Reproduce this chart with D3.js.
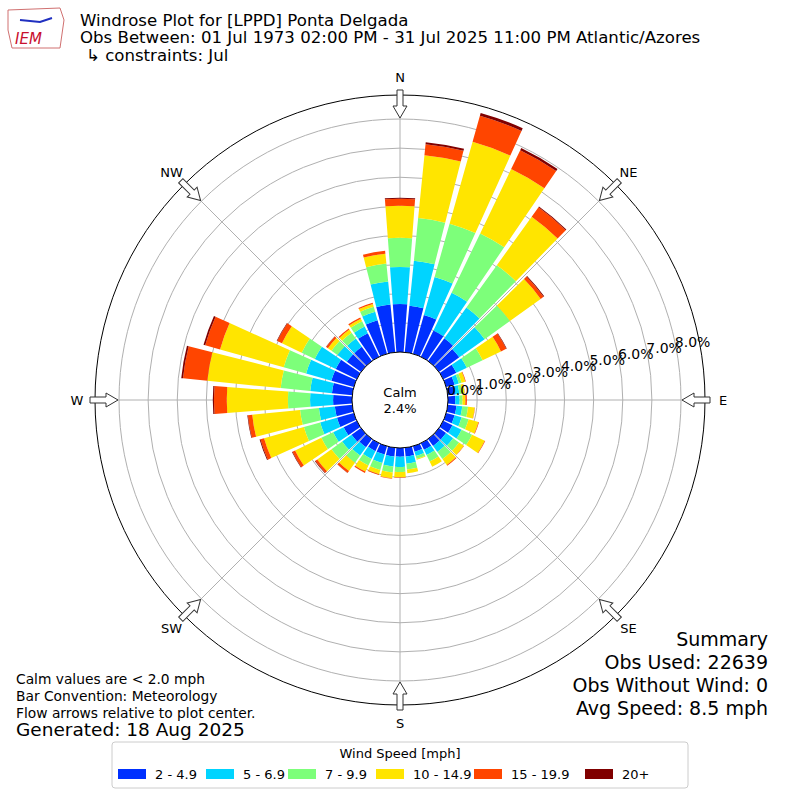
<!DOCTYPE html>
<html><head><meta charset="utf-8">
<script src="https://cdn.jsdelivr.net/npm/d3@7"></script>
<style>body{margin:0;background:#fff}text{font-family:"DejaVu Sans",sans-serif}</style>
</head><body>
<script>
const directions = d3.range(0, 360, 10);
const speedBins = ["2 - 4.9","5 - 6.9","7 - 9.9","10 - 14.9","15 - 19.9","20+"];
const binColors = ["#0030ff","#00d4ff","#7dff7a","#ffe500","#ff4500","#800000"];
// cumulative percent up to the top of each speed bin, per direction (0..350 by 10)
const cumTo4_9  = [1.65,1.6,1.38,1.0,0.96,0.86,0.5,0.3,0.25,0.25,0.3,0.3,0.35,0.3,0.3,0.25,0.2,0.3,0.3,0.3,0.3,0.3,0.35,0.4,0.5,0.6,0.6,0.65,0.7,0.8,0.8,0.6,0.6,0.9,1.2,1.65];
const cumTo6_9  = [2.92,3.16,2.74,2.44,2.26,1.93,0.9,0.45,0.4,0.4,0.5,0.55,0.7,0.6,0.55,0.45,0.35,0.55,0.65,0.65,0.6,0.6,0.7,0.8,0.9,1.2,1.15,1.44,1.45,1.7,1.6,1.0,0.95,1.15,1.5,2.44];
const cumTo9_9  = [3.92,4.63,4.64,4.7,4.05,3.0,1.5,0.55,0.5,0.5,0.7,0.8,1.1,0.85,0.85,0.7,0.45,0.75,0.82,0.85,0.85,0.85,1.0,1.25,1.35,1.78,1.8,2.2,2.47,2.5,2.1,1.25,1.2,1.35,1.68,3.06];
const cumTo14_9 = [5.02,6.8,7.56,7.15,6.1,4.3,2.2,0.68,0.58,0.6,0.93,1.15,1.58,1.05,1.1,0.9,0.48,0.88,1.0,1.05,1.0,1.08,1.35,1.85,2.35,3.2,3.45,4.3,5.0,4.77,2.85,1.4,1.33,1.45,1.78,3.4];
const cumTo19_9 = [5.26,7.18,8.49,7.87,6.5,4.42,2.4,0.7,0.59,0.65,0.94,1.17,1.6,1.06,1.13,0.9,0.48,0.88,1.02,1.07,1.03,1.13,1.43,1.93,2.45,3.33,3.6,4.74,5.84,5.3,3.03,1.47,1.37,1.5,1.82,3.5];
const cumTo20p  = [5.3,7.25,8.59,7.95,6.53,4.45,2.42,0.7,0.59,0.65,0.94,1.17,1.6,1.06,1.13,0.9,0.48,0.88,1.02,1.07,1.03,1.13,1.44,1.95,2.47,3.36,3.62,4.78,5.9,5.36,3.05,1.48,1.37,1.5,1.82,3.5];
const ringTicks = [0,1,2,3,4,5,6,7,8];
const compass = [["N",0],["NE",45],["E",90],["SE",135],["S",180],["SW",225],["W",270],["NW",315]];

const W=800,H=800,cx=400,cy=400;
const svg=d3.select("body").append("svg").attr("width",W).attr("height",H);
const r=d3.scaleLinear().domain([0,8]).range([48,281]);
const R=305;
const rad=a=>a*Math.PI/180;
const g=svg.append("g").attr("transform",`translate(${cx},${cy})`);

g.selectAll("circle.ring").data(ringTicks).join("circle").attr("r",d=>r(d)).attr("fill","none").attr("stroke","#b0b0b0").attr("stroke-width",1);
g.selectAll("line.sp").data(d3.range(0,360,45)).join("line")
 .attr("x1",0).attr("y1",0).attr("x2",d=>R*Math.sin(rad(d))).attr("y2",d=>-R*Math.cos(rad(d)))
 .attr("stroke","#b0b0b0").attr("stroke-width",1);

const series=[cumTo4_9,cumTo6_9,cumTo9_9,cumTo14_9,cumTo19_9,cumTo20p];
const half=4.3;
const arc=d3.arc();
directions.forEach((dir,i)=>{
  let prev=0;
  series.forEach((s,k)=>{
    const v=s[i];
    if(v>prev){
      g.append("path").attr("d",arc({innerRadius:r(prev),outerRadius:r(v),startAngle:rad(dir-half),endAngle:rad(dir+half)}))
       .attr("fill",binColors[k]);
    }
    prev=Math.max(prev,v);
  });
});

g.append("circle").attr("r",48).attr("fill","#fff").attr("stroke","#000").attr("stroke-width",1);
g.append("text").attr("y",-3).attr("text-anchor","middle").attr("font-size",13).text("Calm");
g.append("text").attr("y",13).attr("text-anchor","middle").attr("font-size",13).text("2.4%");
g.append("circle").attr("r",R).attr("fill","none").attr("stroke","#000").attr("stroke-width",1);

g.selectAll("text.rl").data(ringTicks).join("text")
 .attr("x",d=>r(d)*Math.sin(rad(78))).attr("y",d=>-r(d)*Math.cos(rad(78))+5)
 .attr("font-size",14).text(d=>d.toFixed(1)+"%");

const arrowPath="M-3,-10 L3,-10 L3,6 L7,6 L0,18 L-7,6 L-3,6 Z";
compass.forEach(([lab,a])=>{
  const x=(R-5)*Math.sin(rad(a)), y=-(R-5)*Math.cos(rad(a));
  g.append("path").attr("d",arrowPath).attr("transform",`translate(${x},${y}) rotate(${a})`)
   .attr("fill","#fff").attr("stroke","#333").attr("stroke-width",1);
  const lr=323;
  g.append("text").attr("x",lr*Math.sin(rad(a))).attr("y",-lr*Math.cos(rad(a))+5)
   .attr("text-anchor","middle").attr("font-size",13).text(lab);
});

svg.append("text").attr("x",80).attr("y",26).attr("font-size",16.6).text("Windrose Plot for [LPPD] Ponta Delgada");
svg.append("text").attr("x",80).attr("y",43).attr("font-size",16.6).text("Obs Between: 01 Jul 1973 02:00 PM - 31 Jul 2025 11:00 PM Atlantic/Azores");
svg.append("text").attr("x",86).attr("y",61).attr("font-size",16.6).text("↳ constraints: Jul");
const lg=svg.append("g");
lg.append("path").attr("d","M8,10 L60,8 L64,20 L60,48 L12,48 L8,30 Z").attr("fill","#fff").attr("stroke","#d07070").attr("stroke-width",1);
lg.append("text").attr("x",15).attr("y",44).attr("font-size",15).attr("font-style","italic").attr("font-family","Liberation Serif").attr("fill","#c8102e").text("IEM");
lg.append("path").attr("d","M20,20 L40,22 L52,18").attr("stroke","#2030c0").attr("fill","none").attr("stroke-width",2);

const sm=["Summary","Obs Used: 22639","Obs Without Wind: 0","Avg Speed: 8.5 mph"];
svg.selectAll("text.sm").data(sm).join("text").attr("x",768).attr("y",(d,i)=>646+i*23).attr("text-anchor","end").attr("font-size",19).text(d=>d);
const nt=["Calm values are < 2.0 mph","Bar Convention: Meteorology","Flow arrows relative to plot center."];
svg.selectAll("text.nt").data(nt).join("text").attr("x",16).attr("y",(d,i)=>684+i*17).attr("font-size",13.8).text(d=>d);
svg.append("text").attr("x",16).attr("y",736).attr("font-size",18.5).text("Generated: 18 Aug 2025");

svg.append("rect").attr("x",112).attr("y",742).attr("width",576).attr("height",46).attr("rx",3).attr("fill","#fff").attr("stroke","#ccc");
svg.append("text").attr("x",400).attr("y",758).attr("text-anchor","middle").attr("font-size",13).text("Wind Speed [mph]");
const lx=[118,206,288,376,474,585];
speedBins.forEach((b,i)=>{
  svg.append("rect").attr("x",lx[i]).attr("y",769).attr("width",28).attr("height",10).attr("fill",binColors[i]);
  svg.append("text").attr("x",lx[i]+37).attr("y",779).attr("font-size",13).text(b);
});
</script>
</body></html>
